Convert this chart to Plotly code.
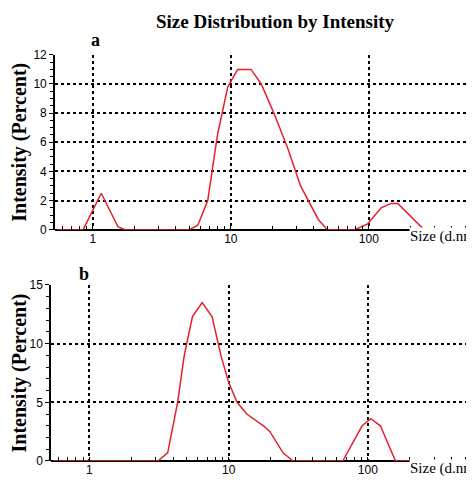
import plotly.graph_objects as go
from plotly.subplots import make_subplots

# panel a
size_a = [0.55, 0.85, 1.15, 1.52, 1.7, 5.0, 5.76, 6.8, 8.0, 9.5, 11.2, 14, 16.6, 20.5, 25.8, 32, 43, 50, 79, 98, 123, 145, 162, 200, 251, 660]
int_a = [0, 0, 2.5, 0.2, 0, 0, 0.3, 2, 6.5, 9.8, 11, 11, 10, 8, 5.6, 3, 0.7, 0, 0, 0.4, 1.5, 1.8, 1.8, 0.9, 0, 0]
# panel b
size_b = [0.55, 3.1, 3.65, 4.3, 4.8, 5.5, 6.45, 7.6, 8.8, 10, 11.5, 13.5, 17.8, 19.8, 24.6, 29, 66, 77, 91, 105, 123, 158, 660]
int_b = [0, 0, 0.7, 5, 9, 12.3, 13.5, 12.3, 9, 6.7, 5, 4, 3, 2.5, 0.7, 0, 0, 1.5, 3, 3.6, 3.0, 0, 0]

minor_x = [m * d for d in (0.1, 1, 10, 100) for m in range(2, 10)]

serif = "Times New Roman, Liberation Serif, serif"
fig = make_subplots(rows=2, cols=1)
fig.add_trace(go.Scatter(x=size_a, y=int_a, mode="lines", line=dict(color="#e8202a", width=1.5)), row=1, col=1)
fig.add_trace(go.Scatter(x=size_b, y=int_b, mode="lines", line=dict(color="#e8202a", width=1.5)), row=2, col=1)

xax = dict(type="log", range=[-0.275, 2.82], tickvals=[1, 10, 100], ticktext=["1", "10", "100"],
           showgrid=True, gridcolor="black", griddash="dot", gridwidth=2,
           ticks="inside", ticklen=4, tickcolor="black",
           minor=dict(tickvals=minor_x, ticks="inside", ticklen=4, tickcolor="black", showgrid=False),
           showline=False, zeroline=False, tickfont=dict(family="Arial", size=12, color="black"))
fig.update_xaxes(**xax, domain=[0.099, 1.0], row=1, col=1)
fig.update_xaxes(**xax, domain=[0.091, 1.0], row=2, col=1)

yax = dict(showgrid=True, gridcolor="black", griddash="dot", gridwidth=2,
           showline=True, linecolor="black", linewidth=1.5, zeroline=True, zerolinecolor="black", zerolinewidth=2,
           ticks="outside", ticklen=4, tickcolor="black",
           minor=dict(ticks="outside", ticklen=3, tickcolor="black", showgrid=False),
           tickfont=dict(family="Arial", size=12, color="black"),
           title=dict(text="<b>Intensity (Percent)</b>", font=dict(family=serif, size=20, color="black"), standoff=2))
fig.update_yaxes(**yax, range=[0, 12], dtick=2, domain=[0.55, 0.9165], row=1, col=1)
fig.update_yaxes(**yax, range=[0, 15], dtick=5, domain=[0.065, 0.434], row=2, col=1)

anns = [
    dict(text="<b>Size Distribution by Intensity</b>", x=0.565, y=1.01, yanchor="top", font=dict(size=19)),
    dict(text="<b>a</b>", x=0.185, y=0.925, yanchor="bottom", font=dict(size=18)),
    dict(text="<b>b</b>", x=0.16, y=0.435, yanchor="bottom", font=dict(size=18)),
    dict(text="Size (d.nm)", x=0.998, xanchor="right", y=0.555, yanchor="top", font=dict(size=15)),
    dict(text="Size (d.nm)", x=0.998, xanchor="right", y=0.07, yanchor="top", font=dict(size=15)),
]
for a in anns:
    a.setdefault("xanchor", "center")
    a["font"].update(family=serif, color="black")
    fig.add_annotation(xref="paper", yref="paper", showarrow=False, bgcolor="white", borderpad=0, **a)

fig.update_layout(width=474, height=491, margin=dict(l=0, r=0, t=0, b=0),
                  plot_bgcolor="white", paper_bgcolor="white", showlegend=False)
fig.write_html("out.html")
